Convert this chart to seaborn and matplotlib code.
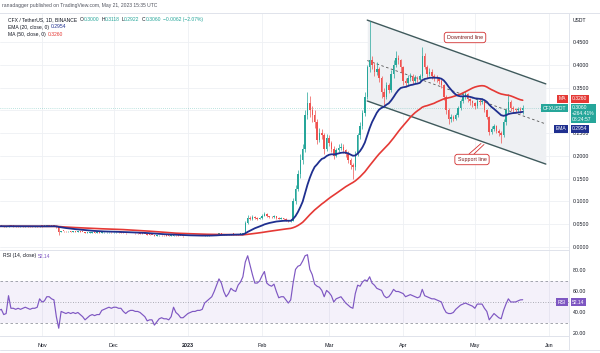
import numpy as np
import pandas as pd
import matplotlib
matplotlib.use("Agg")
import matplotlib.pyplot as plt
from matplotlib.lines import Line2D
import seaborn as sns

# CFX / TetherUS daily candles, 2022-10-14 .. 2023-05-21
first_day = "2022-10-14"
first_open = 0.0452

closes = [
    0.0455, 0.0458, 0.0450, 0.0452, 0.0470, 0.0458, 0.0455, 0.0452, 0.0450, 0.0452,
    0.0449, 0.0450, 0.0447, 0.0446, 0.0445, 0.0447, 0.0445, 0.0458, 0.0455, 0.0457,
    0.0465, 0.0463, 0.0460, 0.0457, 0.0430, 0.0330, 0.0350,
    0.0345, 0.0342, 0.0346, 0.0340, 0.0342, 0.0337, 0.0338, 0.0332, 0.0326, 0.0312,
    0.0316, 0.0318, 0.0319, 0.0316, 0.0317, 0.0316, 0.0320, 0.0321, 0.0322, 0.0323,
    0.0321, 0.0322, 0.0322, 0.0320, 0.0318, 0.0310, 0.0303, 0.0305, 0.0306, 0.0304,
    0.0301, 0.0299, 0.0296, 0.0290, 0.0283, 0.0270, 0.0268, 0.0266, 0.0252, 0.0254,
    0.0256, 0.0255, 0.0253, 0.0252, 0.0248, 0.0250, 0.0262, 0.0254, 0.0246, 0.0238,
    0.0236, 0.0237,
    0.0238, 0.0239, 0.0240, 0.0240, 0.0241, 0.0241, 0.0242, 0.0248, 0.0252, 0.0256,
    0.0260, 0.0268, 0.0280, 0.0298, 0.0290, 0.0276, 0.0268, 0.0272, 0.0282, 0.0279,
    0.0277, 0.0286, 0.0295, 0.0305,
    0.0520, 0.0640, 0.0610, 0.0665, 0.0640, 0.0620, 0.0630, 0.0680, 0.0720, 0.0670,
    0.0660, 0.0650, 0.0670, 0.0640, 0.0620, 0.0625, 0.0615, 0.0590, 0.0560, 0.0580,
    0.100, 0.128, 0.160, 0.190, 0.215, 0.290, 0.315, 0.300, 0.290, 0.275,
    0.235, 0.250, 0.245, 0.215, 0.240, 0.228, 0.215, 0.200, 0.212, 0.218,
    0.220, 0.212, 0.205, 0.190, 0.180, 0.175,
    0.205, 0.245, 0.265, 0.295, 0.330, 0.395, 0.410, 0.400, 0.385, 0.390,
    0.370, 0.340, 0.330, 0.355, 0.345, 0.380, 0.400, 0.415, 0.410, 0.395,
    0.365, 0.360, 0.370, 0.375, 0.365, 0.372, 0.368, 0.375, 0.420, 0.395,
    0.380, 0.385, 0.375, 0.372, 0.370, 0.365, 0.355, 0.330, 0.300, 0.280,
    0.285, 0.282, 0.290, 0.305, 0.320, 0.330, 0.335, 0.325, 0.320, 0.315,
    0.310, 0.320, 0.318, 0.320, 0.300, 0.285, 0.252, 0.258, 0.265, 0.255,
    0.250, 0.245, 0.275, 0.300, 0.318, 0.305, 0.302, 0.300, 0.303, 0.300,
    0.306,
]

highs = [
    0.0465, 0.0466, 0.0462, 0.0460, 0.0480, 0.0475, 0.0463, 0.0462, 0.0458, 0.0460,
    0.0458, 0.0457, 0.0455, 0.0453, 0.0452, 0.0454, 0.0453, 0.0468, 0.0465, 0.0464,
    0.0475, 0.0472, 0.0468, 0.0466, 0.0462, 0.0435, 0.0362,
    0.0358, 0.0352, 0.0354, 0.0350, 0.0349, 0.0346, 0.0345, 0.0342, 0.0336, 0.0330,
    0.0322, 0.0324, 0.0325, 0.0323, 0.0322, 0.0323, 0.0326, 0.0327, 0.0328, 0.0329,
    0.0328, 0.0327, 0.0328, 0.0327, 0.0325, 0.0320, 0.0313, 0.0311, 0.0312, 0.0311,
    0.0308, 0.0305, 0.0303, 0.0299, 0.0293, 0.0286, 0.0275, 0.0273, 0.0270, 0.0260,
    0.0262, 0.0261, 0.0260, 0.0258, 0.0255, 0.0256, 0.0270, 0.0265, 0.0256, 0.0250,
    0.0242, 0.0242,
    0.0243, 0.0244, 0.0245, 0.0245, 0.0246, 0.0246, 0.0247, 0.0254, 0.0258, 0.0262,
    0.0266, 0.0275, 0.0290, 0.0310, 0.0305, 0.0295, 0.0280, 0.0280, 0.0290, 0.0288,
    0.0284, 0.0292, 0.0302, 0.0312,
    0.0560, 0.0700, 0.0690, 0.0710, 0.0690, 0.0660, 0.0665, 0.0720, 0.0760, 0.0740,
    0.0690, 0.0680, 0.0700, 0.0690, 0.0660, 0.0650, 0.0645, 0.0630, 0.0600, 0.0610,
    0.107, 0.136, 0.170, 0.205, 0.225, 0.300, 0.340, 0.332, 0.310, 0.300,
    0.280, 0.262, 0.258, 0.250, 0.248, 0.245, 0.232, 0.222, 0.218, 0.225,
    0.228, 0.226, 0.216, 0.210, 0.196, 0.185,
    0.210, 0.250, 0.275, 0.300, 0.340, 0.400, 0.495, 0.420, 0.405, 0.405,
    0.395, 0.375, 0.348, 0.362, 0.360, 0.388, 0.410, 0.430, 0.422, 0.412,
    0.398, 0.372, 0.378, 0.382, 0.380, 0.378, 0.376, 0.380, 0.440, 0.425,
    0.400, 0.392, 0.390, 0.380, 0.378, 0.374, 0.368, 0.358, 0.333, 0.305,
    0.292, 0.290, 0.295, 0.310, 0.325, 0.340, 0.342, 0.338, 0.328, 0.323,
    0.318, 0.325, 0.324, 0.326, 0.322, 0.302, 0.288, 0.265, 0.270, 0.268,
    0.260, 0.255, 0.280, 0.305, 0.335, 0.322, 0.310, 0.306, 0.308, 0.307,
    0.3118,
]

lows = [
    0.0448, 0.0450, 0.0442, 0.0445, 0.0448, 0.0452, 0.0448, 0.0446, 0.0444, 0.0445,
    0.0443, 0.0444, 0.0441, 0.0440, 0.0439, 0.0440, 0.0439, 0.0442, 0.0449, 0.0450,
    0.0454, 0.0457, 0.0454, 0.0451, 0.0425, 0.0260, 0.0325,
    0.0338, 0.0336, 0.0338, 0.0334, 0.0335, 0.0331, 0.0332, 0.0326, 0.0320, 0.0305,
    0.0308, 0.0312, 0.0313, 0.0310, 0.0311, 0.0310, 0.0313, 0.0315, 0.0316, 0.0317,
    0.0315, 0.0316, 0.0316, 0.0314, 0.0312, 0.0304, 0.0296, 0.0298, 0.0300, 0.0298,
    0.0295, 0.0293, 0.0290, 0.0284, 0.0277, 0.0262, 0.0262, 0.0260, 0.0245, 0.0248,
    0.0250, 0.0249, 0.0247, 0.0246, 0.0242, 0.0244, 0.0246, 0.0248, 0.0240, 0.0232,
    0.0230, 0.0231,
    0.0232, 0.0233, 0.0234, 0.0235, 0.0235, 0.0236, 0.0236, 0.0238, 0.0245, 0.0249,
    0.0253, 0.0256, 0.0264, 0.0276, 0.0282, 0.0268, 0.0262, 0.0264, 0.0268, 0.0272,
    0.0270, 0.0272, 0.0282, 0.0290,
    0.0298, 0.0500, 0.0590, 0.0600, 0.0620, 0.0600, 0.0605, 0.0620, 0.0670, 0.0650,
    0.0640, 0.0630, 0.0640, 0.0625, 0.0610, 0.0605, 0.0600, 0.0580, 0.0545, 0.0540,
    0.0570, 0.095, 0.122, 0.152, 0.182, 0.208, 0.282, 0.285, 0.275, 0.262,
    0.225, 0.230, 0.236, 0.205, 0.210, 0.222, 0.208, 0.193, 0.198, 0.208,
    0.212, 0.206, 0.198, 0.185, 0.172, 0.150,
    0.170, 0.200, 0.238, 0.258, 0.288, 0.325, 0.385, 0.390, 0.375, 0.378,
    0.362, 0.327, 0.310, 0.325, 0.338, 0.340, 0.372, 0.395, 0.402, 0.385,
    0.355, 0.352, 0.355, 0.365, 0.358, 0.360, 0.362, 0.365, 0.370, 0.390,
    0.372, 0.375, 0.368, 0.365, 0.362, 0.358, 0.348, 0.322, 0.292, 0.270,
    0.275, 0.276, 0.278, 0.286, 0.300, 0.316, 0.325, 0.318, 0.312, 0.308,
    0.302, 0.306, 0.312, 0.314, 0.296, 0.280, 0.245, 0.248, 0.254, 0.250,
    0.244, 0.228, 0.242, 0.268, 0.295, 0.298, 0.295, 0.294, 0.296, 0.295,
    0.2922,
]

rsi_values = [
    42, 43, 38, 39, 56, 44, 44, 43, 44, 43,
    44, 45, 44, 43, 44, 44, 45, 53, 50, 51,
    55, 55, 53, 52, 36, 25, 41, 40, 39, 40,
    39, 40, 39, 40, 38, 36, 33, 35, 37, 38,
    37, 38, 38, 42, 43, 44, 45, 44, 45, 45,
    44, 44, 41, 39, 41, 42, 42, 41, 41, 40,
    38, 36, 32, 33, 33, 28, 31, 34, 35, 34,
    34, 33, 36, 45, 40, 38, 35, 35, 37, 39,
    40, 41, 41, 42, 42, 43, 49, 51, 53, 55,
    60, 66, 72, 68, 60, 55, 58, 63, 61, 60,
    66, 69, 74, 88, 94, 85, 76, 68, 68, 70,
    75, 79, 68, 66, 65, 67, 60, 54, 55, 55,
    52, 49, 52, 68, 81, 84, 85, 89, 94, 95,
    81, 76, 67, 65, 64, 61, 55, 61, 59, 56,
    50, 53, 54, 55, 52, 49, 47, 45, 44, 58,
    66, 65, 69, 71, 70, 74, 68, 66, 63, 62,
    61, 56, 54, 55, 58, 62, 60, 60, 59, 58,
    55, 56, 57, 56, 55, 54, 55, 62, 56, 55,
    54, 53, 53, 52, 51, 50, 44, 40, 39, 39,
    40, 43, 45, 47, 48, 49, 48, 47, 46, 44,
    48, 48, 48, 44, 41, 33, 36, 39, 37, 35,
    34, 42, 48, 53, 50, 50, 50, 51, 52, 52.14,
]

price_ticks = [0.0, 0.05, 0.10, 0.15, 0.20, 0.25, 0.30, 0.35, 0.40, 0.45]
hidden_ticks = [0.30]  # covered by the last-price tag in the reference
rsi_ticks = [20, 40, 60, 80]
month_ticks = ["2022-11-01", "2022-12-01", "2023-01-01", "2023-02-01",
               "2023-03-01", "2023-04-01", "2023-05-01", "2023-06-01"]
month_labels = ["Nov", "Dec", "2023", "Feb", "Mar", "Apr", "May", "Jun"]

# hand-drawn descending channel
channel_dates = ["2023-03-17 00:00", "2023-05-30 16:00"]
channel_upper = [0.498, 0.358]
channel_lower = [0.3205, 0.182]

last_close = 0.3060

# ---- build the frame
dates = pd.date_range(first_day, periods=len(closes), freq="D")
df = pd.DataFrame({"date": dates, "close": closes, "high": highs,
                   "low": lows, "rsi": rsi_values})
df["open"] = df["close"].shift(1).fillna(first_open)
df["high"] = df[["high", "open", "close"]].max(axis=1)
df["low"] = df[["low", "open", "close"]].min(axis=1)
df["ema"] = df["close"].ewm(span=20, adjust=False).mean()
df["ma"] = df["close"].rolling(50, min_periods=1).mean()

UP, DOWN = "#26a69a", "#ef5350"
EMA_C, MA_C, RSI_C = "#1f2f8f", "#e53935", "#7e57c2"
GRID, BORDER, TXT = "#eef0f4", "#e0e3eb", "#131722"

W, H = 600, 353
def fx(px): return px / W
def fy(py): return 1 - py / H

sns.set_style("white")
plt.rcParams["font.family"] = ["Liberation Sans", "DejaVu Sans"]

fig = plt.figure(figsize=(6.0, 3.53), dpi=100)
ax = fig.add_axes([0, fy(250), fx(569), (250 - 13) / H])
ax_rsi = fig.add_axes([0, fy(336), fx(569), (336 - 250) / H])

x0 = pd.Timestamp(first_day) + pd.Timedelta(days=0.44)
x1 = pd.Timestamp(first_day) + pd.Timedelta(days=238.36)

# ---- main pane
cd = pd.to_datetime(channel_dates, format="%Y-%m-%d %H:%M")
ax.fill_between(cd, channel_lower, channel_upper, color="#e9ebf0", alpha=0.75, zorder=0.5, lw=0)
ax.plot(cd, channel_upper, color="#3f5a5c", lw=1.0, zorder=1)
ax.plot(cd, channel_lower, color="#3f5a5c", lw=1.0, zorder=1)
ax.plot(cd, [(a + b) / 2 for a, b in zip(channel_upper, channel_lower)],
        color="#555555", lw=0.6, ls=(0, (3, 3)), zorder=1)

colors = np.where(df["close"] >= df["open"], UP, DOWN)
ax.vlines(df["date"], df["low"], df["high"], colors=colors, lw=0.5, zorder=2)
body_lo = df[["open", "close"]].min(axis=1)
body_h = (df["close"] - df["open"]).abs().clip(lower=0.0018)
ax.bar(df["date"], body_h, bottom=body_lo, width=0.62, color=colors, lw=0, zorder=2)

sns.lineplot(data=df, x="date", y="ma", ax=ax, color=MA_C, lw=1.2, zorder=3)
sns.lineplot(data=df, x="date", y="ema", ax=ax, color=EMA_C, lw=1.3, zorder=3)
ax.axhline(last_close, color=UP, lw=0.5, ls=(0, (1, 2)), alpha=0.6, zorder=1)

ax.set_xlim(x0, x1)
ax.set_ylim(-0.0066, 0.5136)
ax.set_yticks(price_ticks)
ax.set_yticklabels(["" if t in hidden_ticks else f"{t:.4f}" for t in price_ticks])
ax.set_xticks(pd.to_datetime(month_ticks))
ax.yaxis.tick_right()
ax.tick_params(axis="y", length=0, labelsize=3.8, pad=3, labelcolor=TXT)
ax.tick_params(axis="x", length=0, labelbottom=False)
ax.grid(True, color=GRID, lw=0.6)
ax.set_xlabel("")
ax.set_ylabel("")
for s in ["top", "right", "bottom"]:
    ax.spines[s].set_color(BORDER)
    ax.spines[s].set_linewidth(0.7)
ax.spines["left"].set_visible(False)

# ---- RSI pane
ax_rsi.axhspan(30, 70, color=RSI_C, alpha=0.08, lw=0)
for lvl, style in [(70, (0, (3, 3))), (50, (0, (1, 2))), (30, (0, (3, 3)))]:
    ax_rsi.axhline(lvl, color="#9598a1", lw=0.6, ls=style)
sns.lineplot(data=df, x="date", y="rsi", ax=ax_rsi, color=RSI_C, lw=0.85)
ax_rsi.set_xlim(x0, x1)
ax_rsi.set_ylim(17.6, 99.5)
ax_rsi.set_yticks(rsi_ticks)
ax_rsi.set_yticklabels([f"{t:.2f}" for t in rsi_ticks])
ax_rsi.yaxis.tick_right()
ax_rsi.set_xticks(pd.to_datetime(month_ticks))
ax_rsi.set_xticklabels(month_labels)
ax_rsi.get_xticklabels()[2].set_fontweight("bold")
ax_rsi.tick_params(axis="y", length=0, labelsize=3.8, pad=3, labelcolor=TXT)
ax_rsi.tick_params(axis="x", length=0, labelsize=3.9, pad=5, labelcolor=TXT)
ax_rsi.grid(True, axis="x", color=GRID, lw=0.6)
ax_rsi.set_xlabel("")
ax_rsi.set_ylabel("")
for s in ["top", "right", "bottom"]:
    ax_rsi.spines[s].set_color(BORDER)
    ax_rsi.spines[s].set_linewidth(0.7)
ax_rsi.spines["left"].set_visible(False)

# ---- header and legends
fs = 3.6
renderer = fig.canvas.get_renderer()

def put_row(px, py, pieces):
    # write text pieces one after the other on one line
    for s, c, gap in pieces:
        t = fig.text(fx(px), fy(py), s, fontsize=fs, color=c, va="center")
        px += t.get_window_extent(renderer=renderer).width + gap

fig.text(fx(2), fy(5), "ranadagger published on TradingView.com, May 21, 2023 15:35 UTC",
         fontsize=fs, color="#50535e", va="center")
fig.add_artist(Line2D([0, 1], [fy(12.5)] * 2, color=BORDER, lw=0.7))
fig.add_artist(Line2D([fx(569)] * 2, [fy(336), fy(350)], color=BORDER, lw=0.7))
fig.add_artist(Line2D([0, 1], [fy(350)] * 2, color=BORDER, lw=0.7))

put_row(8, 19.5, [("CFX / TetherUS, 1D, BINANCE", TXT, 2.5),
                  ("O", TXT, 0), ("0.3000", UP, 2), ("H", TXT, 0), ("0.3118", UP, 2),
                  ("L", TXT, 0), ("0.2922", UP, 2), ("C", TXT, 0), ("0.3060", UP, 2),
                  ("\u22120.0062 (\u22122.07%)", UP, 0)])
put_row(8, 27, [("EMA (20, close, 0)", TXT, 2), ("0.2954", EMA_C, 0)])
put_row(8, 34.5, [("MA (50, close, 0)", TXT, 2), ("0.3260", MA_C, 0)])
put_row(3, 256, [("RSI (14, close)", TXT, 2), ("52.14", RSI_C, 0)])
fig.text(fx(573), fy(20), "USDT", fontsize=fs, color=TXT, va="center")

# ---- price tags on the right scale
def tag(px, py, s, fc, ha="left"):
    fig.text(fx(px), fy(py), s, fontsize=3.6, color="white", ha=ha, va="center",
             linespacing=1.2,
             bbox=dict(boxstyle="square,pad=0.3", fc=fc, ec="none"))

tag(566, 99, "MA", MA_C, ha="right")
tag(572, 99, "0.3260", MA_C)
tag(566, 108, "CFXUSDT", UP, ha="right")
tag(572, 113.5, "0.3060\n+264.41%\n08:24:57", UP)
tag(566, 128.5, "EMA", EMA_C, ha="right")
tag(572, 128.5, "0.2954", EMA_C)
tag(566, 302, "RSI", RSI_C, ha="right")
tag(572, 302, "52.14", RSI_C)

# ---- chart notes
note = dict(boxstyle="round,pad=0.5", fc="white", ec="#d32f2f", lw=0.6)
fig.text(fx(465), fy(37.5), "Downtrend line", fontsize=3.9, color="#7f1d1d",
         ha="center", va="center", bbox=note)
fig.text(fx(472), fy(159.5), "Support line", fontsize=3.9, color="#7f1d1d",
         ha="center", va="center", bbox=note)
for (ax_, ay_), (bx_, by_) in [((469, 154), (481, 143.5)), ((474, 154), (484, 144.5))]:
    fig.add_artist(Line2D([fx(ax_), fx(bx_)], [fy(ay_), fy(by_)], color="#d32f2f", lw=0.6))

fig.savefig("out.png", dpi=100)
